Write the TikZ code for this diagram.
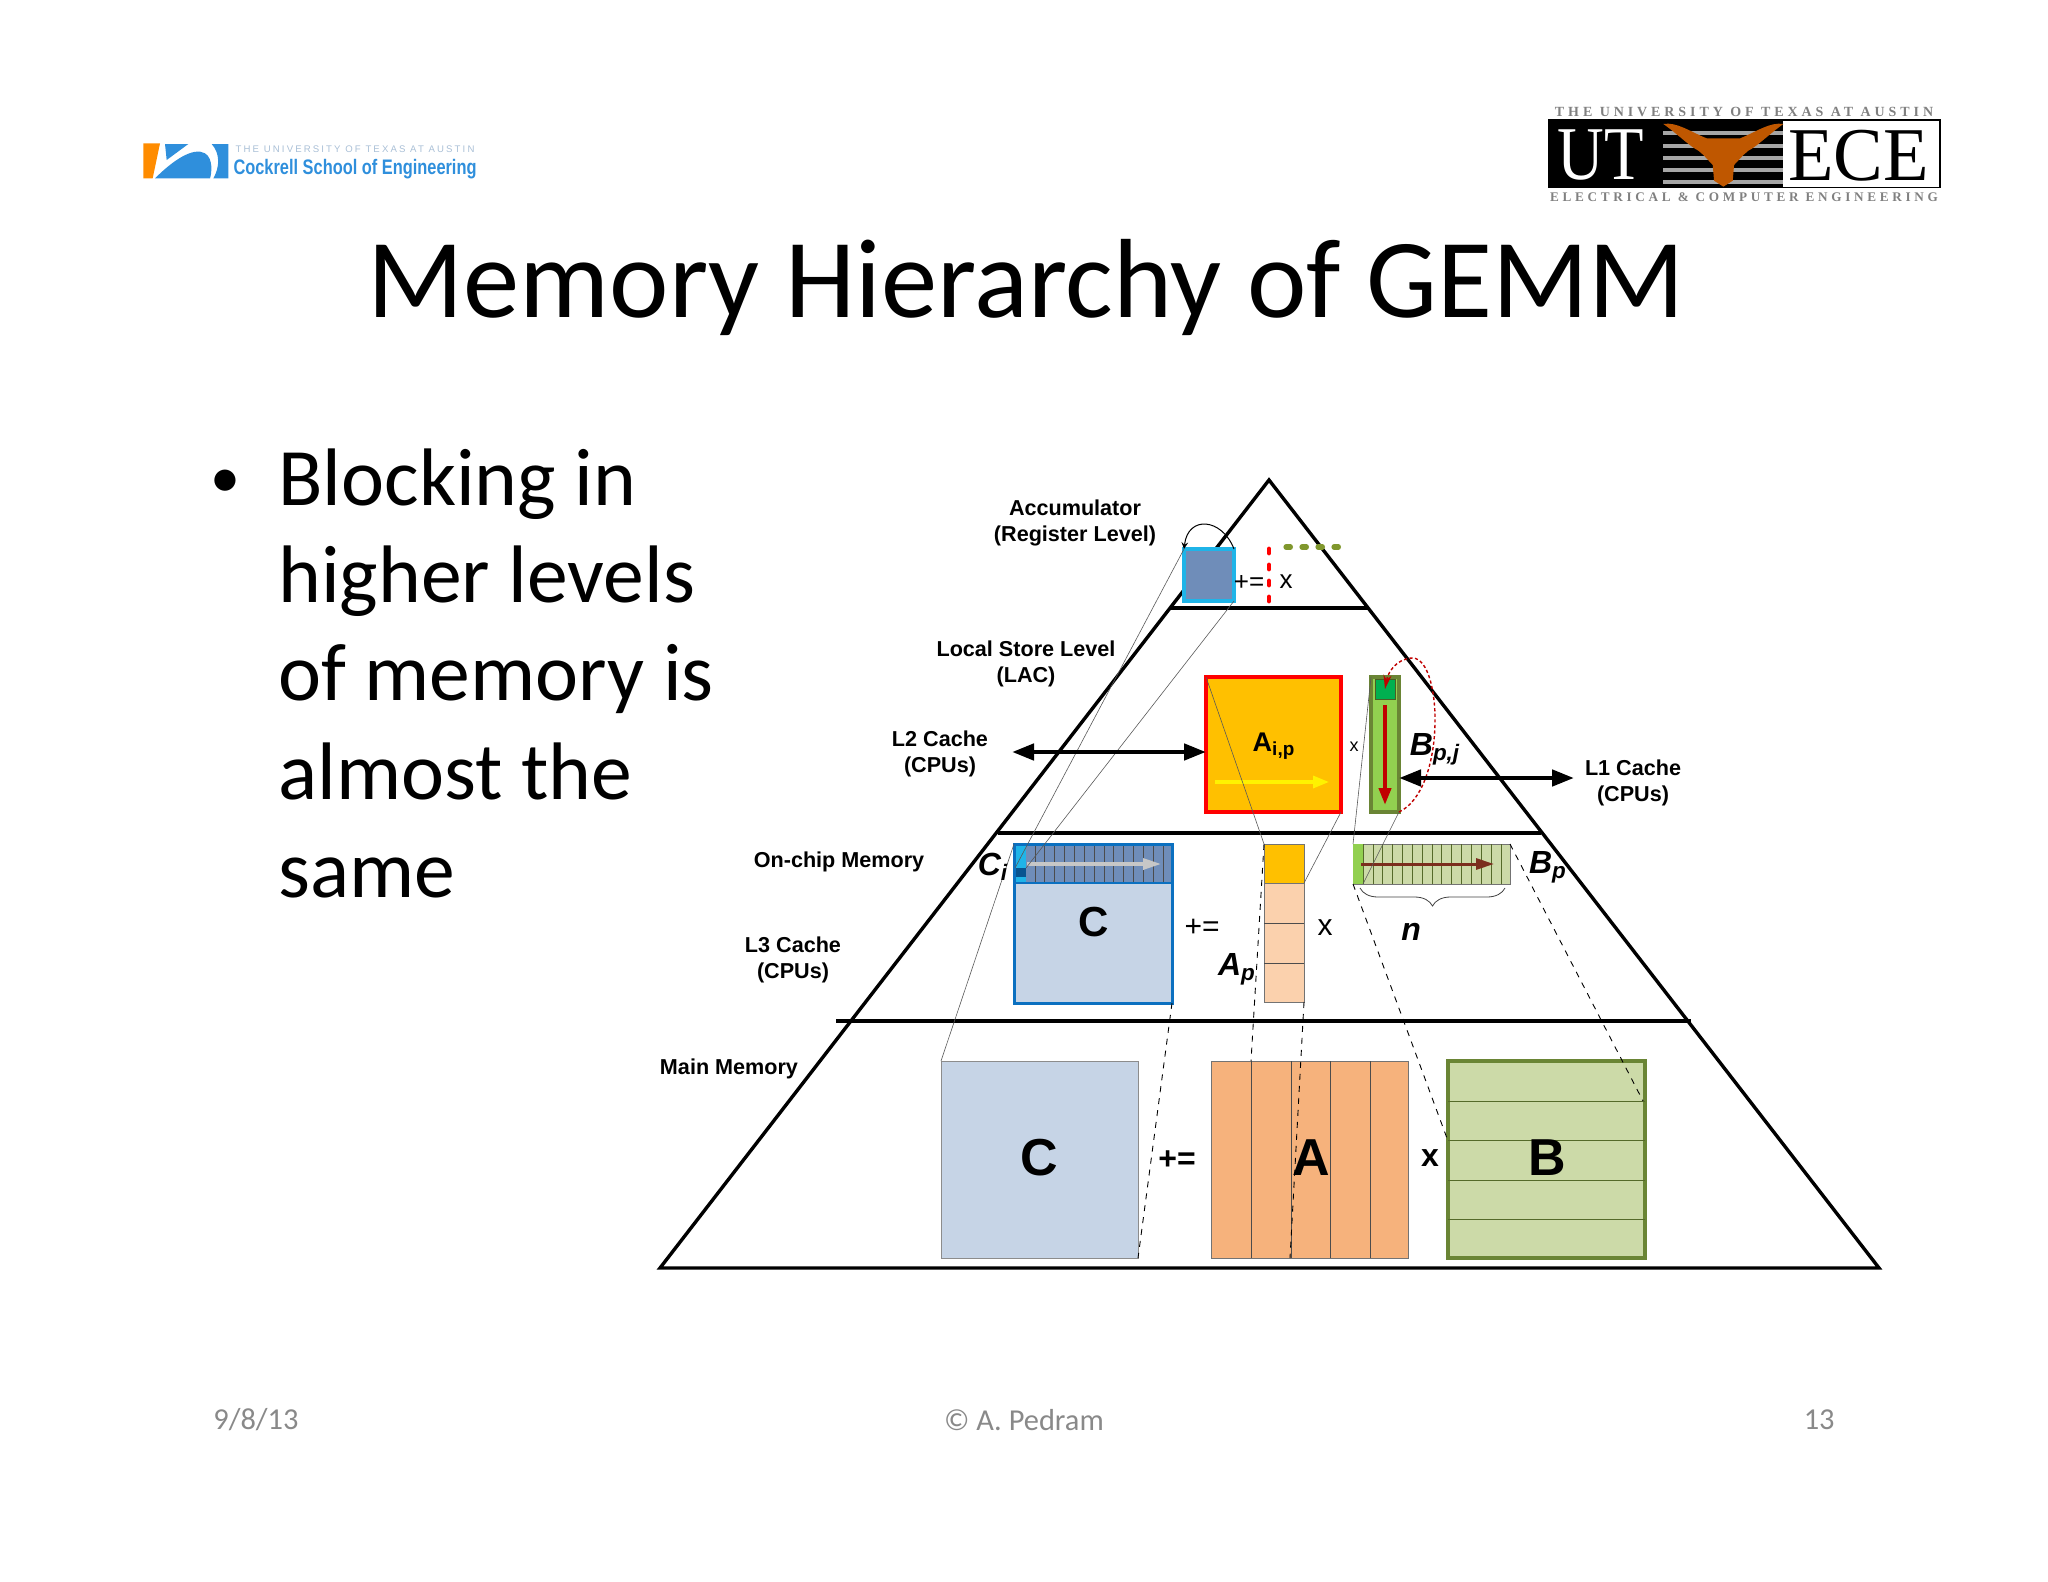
\documentclass[tikz,border=0pt]{standalone}
\usepackage{fontspec}
\setmainfont{Carlito}
\setsansfont{Liberation Sans}
\newfontfamily\logoserif[LetterSpace=28]{Liberation Serif}
\newfontfamily\bigserif{Liberation Serif}
\usetikzlibrary{arrows.meta,decorations.pathreplacing}
\definecolor{regblue}{HTML}{6F8DB9}
\definecolor{regedge}{HTML}{1FB4E8}
\definecolor{cedge}{HTML}{0B70C0}
\definecolor{cfill}{HTML}{C6D4E6}
\definecolor{aorange}{HTML}{F6B27C}
\definecolor{alight}{HTML}{FBD1AD}
\definecolor{ayellow}{HTML}{FFC000}
\definecolor{bfill}{HTML}{CCDAA8}
\definecolor{bgreen}{HTML}{92D050}
\definecolor{bcell}{HTML}{00B050}
\definecolor{bedge}{HTML}{6A8535}
\definecolor{darkred}{HTML}{C00000}
\definecolor{brownred}{HTML}{7B2E1E}
\definecolor{footgray}{HTML}{898989}
\definecolor{logoblue}{HTML}{2F8FDC}
\definecolor{logopale}{HTML}{A9BFD6}
\definecolor{horn}{HTML}{BF5700}
\tikzset{
  levelline/.style={line width=1.7pt},
  wideline/.style={{Triangle[length=11pt,width=8pt]}-{Triangle[length=11pt,width=8pt]},line width=2.3pt},
  box/.style={draw,inner sep=0pt,outer sep=0pt,anchor=north west},
  thinlink/.style={line width=.3pt,black!65},
  dashlink/.style={line width=.45pt,dashed},
  lab/.style={font=\sffamily\bfseries\fontsize{10.8}{13}\selectfont,align=center},
  slide/.style={anchor=base west,inner sep=0pt,font=\fontsize{40.8}{41}\selectfont},
  foot/.style={inner sep=0pt,font=\fontsize{15.2}{15.2}\selectfont,text=footgray},
  op/.style={font=\sffamily\fontsize{13}{13}\selectfont},
  bigop/.style={font=\sffamily\bfseries\fontsize{16}{16}\selectfont},
  sym/.style={font=\sffamily\bfseries\itshape\fontsize{16}{16}\selectfont},
}
\begin{document}
\begin{tikzpicture}[x=.5pt,y=-.5pt]
    \useasboundingbox (0,0) rectangle (2048,1582);

    % left logo
    \begin{scope}[shift={(120,90)},x=.1667pt,y=-.1667pt]
        \fill[orange!90!yellow] (70,160)--(120,160)--(98,265)--(70,265)--cycle;
        \fill[logoblue] (135,162)--(205,162)--(140,210)--cycle;
        \fill[logoblue] (105,265) .. controls (160,210) and (220,170) .. (255,190) .. controls (280,205) and (275,250) .. (270,265)--cycle;
        \fill[logoblue] (275,162)--(325,162)--(325,265)--(280,265) .. controls (300,230) and (300,190) .. (275,162)--cycle;
        \node[text=logopale,font=\sffamily\fontsize{4.8}{4.8}\selectfont] (cockrelltop) at (705,178) {\addfontfeature{LetterSpace=22}THE UNIVERSITY OF TEXAS AT AUSTIN};
        \node[text=logoblue,font=\sffamily\bfseries\fontsize{10.5}{10.5}\selectfont] (cockrell) at (705,238) {\scalebox{.78}[1]{Cockrell School of Engineering}};
    \end{scope}

    % right logo
    \begin{scope}[shift={(1530,90)},x=.1667pt,y=-.1667pt]
        \fill[black] (55,90) rectangle (760,292);
        \foreach \y in {130,168,205,240,275}
            \fill[black!35] (400,\y-6) rectangle (760,\y+6);
        \draw[line width=.8pt] (55,90) rectangle (1230,292);
        \fill[horn] (400,102) .. controls (440,95) and (480,125) .. (530,145) -- (630,145) .. controls (680,125) and (720,95) .. (760,102)
            .. controls (720,130) and (680,170) .. (655,182) -- (640,195) -- (612,225) -- (608,272) -- (580,290) -- (552,272) -- (548,225) -- (520,195) -- (505,182)
            .. controls (480,170) and (440,130) .. (400,102) -- cycle;
        \node[text=white,font=\bigserif\fontsize{38}{38}\selectfont] (ut) at (212,196) {\scalebox{.85}[1]{UT}};
        \node[font=\bigserif\fontsize{38}{38}\selectfont] (ece) at (985,196) {\scalebox{.98}[1]{ECE}};
        \node[text=black!50,font=\logoserif\bfseries\fontsize{7}{7}\selectfont] (utaustin) at (642,65) {THE UNIVERSITY OF TEXAS AT AUSTIN};
        \node[text=black!50,font=\logoserif\bfseries\fontsize{6.6}{6.6}\selectfont] (utece) at (642,322) {ELECTRICAL \& COMPUTER ENGINEERING};
    \end{scope}

    % slide text
    \node[anchor=base,inner sep=0pt,font=\fontsize{56.3}{56.3}\selectfont] (title) at (1026,318) {Memory Hierarchy of GEMM};
    \node[anchor=base,inner sep=0pt,font=\fontsize{30}{30}\selectfont] (dot) at (225,498) {•};
    \node[slide] (line1) at (278,506) {Blocking in};
    \node[slide] (line2) at (278,603) {higher levels};
    \node[slide] (line3) at (278,700) {of memory is};
    \node[slide] (line4) at (278,799) {almost the};
    \node[slide] (line5) at (278,897) {same};
    \node[foot,anchor=west] (date) at (213,1420) {9/8/13};
    \node[foot] (owner) at (1024,1420) {© A. Pedram};
    \node[foot,anchor=east] (pagenum) at (1835,1420) {13};

    % pyramid
    \coordinate (apex) at (1269,480);
    \coordinate (baseL) at (660,1268);
    \coordinate (baseR) at (1879,1268);
    \draw[levelline,line join=miter] (apex) -- (baseL) -- (baseR) -- cycle;
    \draw[levelline] (1170,608) -- (1368,608);
    \draw[levelline] (998,833) -- (1541,833);
    \draw[levelline] (836,1021) -- (1691,1021);

    % main memory
    \node[box,fill=cfill,draw=black!45,line width=.5pt,minimum width=98.5pt,minimum height=98.5pt] (bigC) at (941,1061) {};
    \node[box,fill=aorange,draw=black!55,line width=.4pt,minimum width=98.5pt,minimum height=98.5pt] (bigA) at (1211,1061) {};
    \foreach \x in {1251,1291,1330,1370}
        \draw[line width=.4pt,black!70] (\x,1061) -- (\x,1258);
    \node[box,fill=bfill,draw=bedge,line width=1.7pt,minimum width=98.5pt,minimum height=98.5pt] (bigB) at (1448,1061) {};
    \foreach \y in {1101,1140,1180,1219}
        \draw[line width=.4pt,bedge!80!black] (1448,\y) -- (1645,\y);

    % L3 level
    \node[box,fill=cfill,draw=cedge,line width=1.5pt,minimum width=79pt,minimum height=79.5pt] (blockC) at (1014,844) {};
    \node[box,fill=regblue,draw=none,minimum width=78pt,minimum height=19.5pt] (rowC) at (1015,845) {};
    \foreach \i in {0,...,14}
        \draw[line width=.35pt,black!70] ({1025+\i*9.87},845) -- ({1025+\i*9.87},883);
    \node[box,fill=regedge,draw=none,minimum width=5.5pt,minimum height=19.5pt] (cellC) at (1015,845) {};
    \node[box,fill=cedge!75!black,draw=none,minimum width=5.5pt,minimum height=4.5pt] (cellCi) at (1015,868) {};
    \draw[cedge,line width=1.5pt] (blockC.north west) rectangle (blockC.south east);
    \draw[cedge,line width=.7pt] (1014,883) -- (1172,883);
    \draw[-{Triangle[length=9pt,width=5.5pt]},black!22,line width=1.6pt] (1027,864) -- (1161,864);

    \node[box,fill=alight,draw=black!55,line width=.4pt,minimum width=20pt,minimum height=79pt] (colA) at (1264,844) {};
    \node[box,fill=ayellow,draw=black!55,line width=.4pt,minimum width=20pt,minimum height=19.5pt] (cellA) at (1264,844) {};
    \draw[line width=.4pt,black!70] (1264,923) -- (1304,923);
    \draw[line width=.4pt,black!70] (1264,963) -- (1304,963);

    \node[box,fill=bfill,draw=black!55,line width=.4pt,minimum width=78.5pt,minimum height=20pt] (rowB) at (1353,844) {};
    \node[box,fill=bgreen,draw=none,minimum width=5pt,minimum height=20pt] (cellB) at (1353,844) {};
    \foreach \i in {0,...,14}
        \draw[line width=.35pt,bedge!80!black] ({1363+\i*9.85},844) -- ({1363+\i*9.85},884);
    \draw[-{Triangle[length=9pt,width=5.5pt]},brownred,line width=1.5pt] (1361,864) -- (1494,864);
    \draw[decorate,decoration={brace,mirror,amplitude=9pt},line width=.4pt,black!75] (1360,888) -- (1505,888);

    % local store
    \node[box,fill=ayellow,draw=red,line width=1.8pt,minimum width=67.5pt,minimum height=67.5pt] (storeA) at (1206,677) {};
    \draw[-{Triangle[length=8pt,width=6pt]},yellow,line width=1.6pt] (1215,782) -- (1329,782);
    \node[box,fill=bgreen,draw=bedge,line width=1.6pt,minimum width=14pt,minimum height=67.5pt] (storeB) at (1371,677) {};
    \node[box,fill=bcell,draw=bedge!70!black,line width=.4pt,minimum width=10pt,minimum height=10pt] (storeBj) at (1375,679) {};
    \draw[-{Triangle[length=8.5pt,width=6pt]},darkred,line width=2pt] (1385,705) -- (1385,805);

    % accumulator
    \node[box,fill=regblue,draw=regedge,line width=1.6pt,minimum width=25pt,minimum height=26pt] (accum) at (1184,549) {};
    \draw[->,>=stealth,line width=.5pt] (accum.north east) .. controls (1222,518) and (1188,515) .. (accum.north west);
    \draw[red,line width=2.4pt,line cap=round,dash pattern=on 2pt off 6pt] (1269,549) -- (1269,601);
    \draw[bedge!85!yellow,line width=2.6pt,line cap=round,dash pattern=on 2.2pt off 5.8pt] (1286,547) -- (1340,547);

    % links between levels
    \draw[thinlink] (accum.north west) -- (cellCi.north west);
    \draw[thinlink] (accum.south east) -- (cellCi.north east);
    \draw[thinlink] (blockC.north west) -- (bigC.north west);
    \draw[thinlink] (storeA.north west) -- (cellA.north west);
    \draw[thinlink] (storeA.south east) -- (cellA.south east);
    \draw[thinlink] (storeB.north west) -- (rowB.north west);
    \draw[thinlink] (storeB.south east) -- (cellB.south east);
    \draw[dashlink] (blockC.south east) -- (bigC.south east);
    \coordinate (gapA) at (1251,1061);
    \coordinate (gapAb) at (1290,1258);
    \coordinate (gapB) at (1448,1141);
    \coordinate (gapBb) at (1643,1101);
    \draw[dashlink] (cellA.north west) -- (gapA);
    \draw[dashlink] (colA.south east) -- (gapAb);
    \draw[dashlink] (rowB.south west) -- (gapB);
    \draw[dashlink] (rowB.north east) -- (gapBb);
    \draw[->,>={Stealth[length=7pt,width=4pt]},darkred,line width=.7pt,dash pattern=on 1.6pt off 1.2pt] (storeB.south east)
        .. controls (1446,790) and (1443,660) .. (1413,658) .. controls (1397,658) and (1388,672) .. (storeBj.center);

    % level arrows
    \coordinate (l2end) at (1012,752);
    \coordinate (l1end) at (1574,778);
    \draw[wideline] (l2end) -- (storeA.west |- l2end);
    \draw[wideline] (storeB.east |- l1end) -- (l1end);

    % labels
    \node[lab] (lacc) at (1075,523) {Accumulator\\(Register Level)};
    \node[lab] (llac) at (1026,664) {Local Store Level\\(LAC)};
    \node[lab] (ll2) at (940,754) {L2 Cache\\(CPUs)};
    \node[lab] (ll1) at (1633,783) {L1 Cache\\(CPUs)};
    \node[lab] (lchip) at (839,862) {On-chip Memory};
    \node[lab] (ll3) at (793,960) {L3 Cache\\(CPUs)};
    \node[lab] (lmain) at (729,1069) {Main Memory};

    \node[op] (pluseq) at (1249,583) {+=};
    \node[op] (accx) at (1286,582) {x};
    \node[font=\sffamily\bfseries\fontsize{13.5}{13.5}\selectfont] (labAip) at (1274,746) {A\textsubscript{i,p}};
    \node[font=\sffamily\fontsize{9}{9}\selectfont] (storex) at (1354,747) {x};
    \node[sym] (labBpj) at (1435,749) {B\textsubscript{p,j}};
    \node[sym] (labCi) at (993,867) {C\textsubscript{i}};
    \node[font=\sffamily\bfseries\fontsize{21}{21}\selectfont] (labC) at (1094,922) {C};
    \node[font=\sffamily\fontsize{15}{15}\selectfont] (midpluseq) at (1202,928) {+=};
    \node[sym] (labAp) at (1237,969) {A\textsubscript{p}};
    \node[font=\sffamily\fontsize{15}{15}\selectfont] (midx) at (1325,928) {x};
    \node[sym] (labBp) at (1548,867) {B\textsubscript{p}};
    \node[sym] (labn) at (1411,932) {n};
    \node[font=\sffamily\bfseries\fontsize{26}{26}\selectfont] (labbigC) at (1039,1158) {C};
    \node[bigop] (bigpluseq) at (1177,1160) {+=};
    \node[font=\sffamily\bfseries\fontsize{26}{26}\selectfont] (labbigA) at (1311,1158) {A};
    \node[bigop] (bigx) at (1430,1158) {x};
    \node[font=\sffamily\bfseries\fontsize{26}{26}\selectfont] (labbigB) at (1547,1158) {B};

\end{tikzpicture}
\end{document}
